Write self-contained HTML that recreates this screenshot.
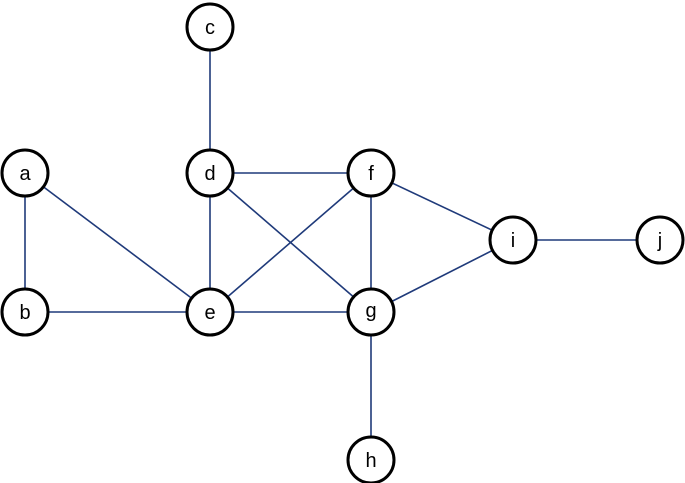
<!DOCTYPE html>
<html><head><meta charset="utf-8"><style>html,body{margin:0;padding:0;background:#fff}svg{display:block}</style></head>
<body>
<svg width="685" height="483" viewBox="0 0 685 483" xmlns="http://www.w3.org/2000/svg">
<g stroke="#1f3a7a" stroke-width="1.6" fill="none">
<line x1="210" y1="27" x2="210" y2="173"/>
<line x1="25" y1="173" x2="25" y2="312"/>
<line x1="25" y1="173" x2="210" y2="312"/>
<line x1="25" y1="312" x2="210" y2="312"/>
<line x1="210" y1="173" x2="371" y2="173"/>
<line x1="210" y1="173" x2="210" y2="312"/>
<line x1="210" y1="173" x2="371" y2="312"/>
<line x1="371" y1="173" x2="210" y2="312"/>
<line x1="371" y1="173" x2="371" y2="312"/>
<line x1="210" y1="312" x2="371" y2="312"/>
<line x1="371" y1="173" x2="513" y2="240"/>
<line x1="371" y1="312" x2="513" y2="240"/>
<line x1="513" y1="240" x2="660" y2="240"/>
<line x1="371" y1="312" x2="371" y2="460"/>
</g>
<g stroke="#000" stroke-width="3" fill="#fff">
<circle cx="210" cy="27" r="23"/>
<circle cx="25" cy="173" r="23"/>
<circle cx="210" cy="173" r="23"/>
<circle cx="371" cy="173" r="23"/>
<circle cx="513" cy="240" r="23"/>
<circle cx="660" cy="240" r="23"/>
<circle cx="25" cy="312" r="23"/>
<circle cx="210" cy="312" r="23"/>
<circle cx="371" cy="312" r="23"/>
<circle cx="371" cy="460" r="23"/>
</g>
<g font-family="Liberation Sans, sans-serif" font-size="20" text-anchor="middle" fill="#000">
<text x="210" y="34">c</text>
<text x="25" y="180">a</text>
<text x="210" y="180">d</text>
<text x="371" y="180">f</text>
<text x="513" y="247">i</text>
<text x="660" y="247">j</text>
<text x="25" y="319">b</text>
<text x="210" y="319">e</text>
<text x="371" y="317">g</text>
<text x="371" y="467">h</text>
</g>
</svg>
</body></html>
